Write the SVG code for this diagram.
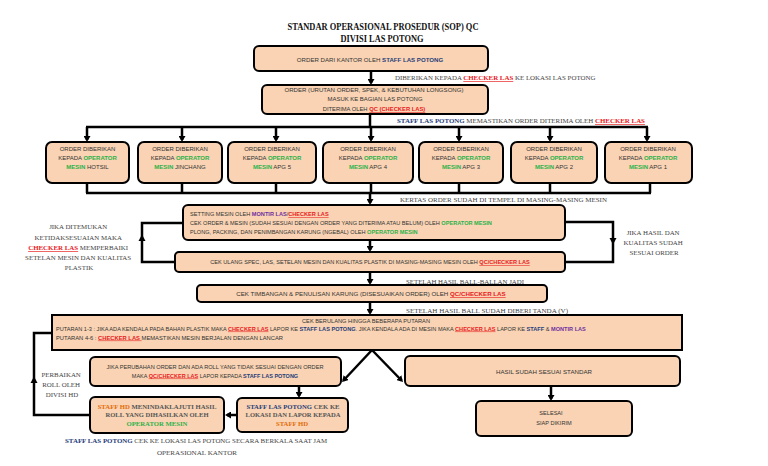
<svg xmlns="http://www.w3.org/2000/svg" width="768" height="466" viewBox="0 0 768 466">
<defs>
<style>
.box{fill:#F9D3B3;stroke:#000;stroke-width:2}
.t{font-family:"Liberation Sans",Arial,sans-serif;fill:#333}
.s{font-family:"Liberation Serif","Times New Roman",serif;fill:#444;font-size:6.9px}
.sb{font-family:"Liberation Serif","Times New Roman",serif;fill:#555;font-size:6.7px;font-weight:bold}
.ttl{font-family:"Liberation Serif","Times New Roman",serif;fill:#111;font-size:10.5px;font-weight:bold}
.red{fill:#E8201E;text-decoration:underline;font-weight:bold}
.grn{fill:#2DB24A;font-weight:bold}
.blu{fill:#1F3D7A;font-weight:bold}
.pur{fill:#7030A0;font-weight:bold}
.org{fill:#E46C0A;font-weight:bold}
.ln{stroke:#000;stroke-width:2.5;fill:none}
.ar{marker-end:url(#ah)}
</style>
<marker id="ah" markerUnits="userSpaceOnUse" markerWidth="6" markerHeight="7" viewBox="0 0 6 7" refX="4" refY="3.5" orient="auto">
<path d="M0,0 L6,3.5 L0,7 z" fill="#000"/>
</marker>
</defs>
<rect width="768" height="466" fill="#fff"/>

<g id="title">
<text class="ttl" x="383" y="30" text-anchor="middle" textLength="191" lengthAdjust="spacingAndGlyphs">STANDAR OPERASIONAL PROSEDUR (SOP) QC</text>
<text class="ttl" x="382" y="42" text-anchor="middle" textLength="83" lengthAdjust="spacingAndGlyphs">DIVISI LAS POTONG</text>
</g>

<g id="connectors">
<path class="ln ar" d="M371,71 V83"/>
<path class="ln" d="M370,114 V127"/>
<path class="ln" d="M86,127 H648"/>
<path class="ln ar" d="M87,127 V140"/>
<path class="ln ar" d="M182,127 V140"/>
<path class="ln ar" d="M276,127 V140"/>
<path class="ln ar" d="M371,127 V140"/>
<path class="ln ar" d="M459,127 V140"/>
<path class="ln ar" d="M550,127 V140"/>
<path class="ln ar" d="M647,127 V140"/>
<path class="ln" d="M87,183 V193 M182,183 V193 M276,183 V193 M371,183 V193 M459,183 V193 M550,183 V193 M650,183 V193"/>
<path class="ln" d="M86,193 H651"/>
<path class="ln ar" d="M370,193 V203"/>
<path class="ln ar" d="M370,240 V250"/>
<path class="ln" d="M175,262 H142 V223 H183"/>
<polygon points="138.5,241 145.5,241 142,234.5" fill="#000"/>
<path class="ln" d="M565,222 H613 V262 H565"/>
<polygon points="609.5,238 616.5,238 613,244.5" fill="#000"/>
<path class="ln ar" d="M370,272 V283"/>
<path class="ln ar" d="M370,302 V313"/>
<path class="ln ar" d="M372,350 L343.4,380.5"/>
<path class="ln ar" d="M372,350 L401.6,380.5"/>
<path class="ln ar" d="M299,386 V396"/>
<path class="ln ar" d="M551,386 V399"/>
<path class="ln ar" d="M237,415 H227"/>
<path class="ln" d="M90,415 H34 V333 H52"/>
<polygon points="30.5,383 37.5,383 34,376.5" fill="#000"/>
</g>

<g id="labels">
<text class="s" x="395" y="80">DIBERIKAN KEPADA <tspan class="red">CHECKER LAS</tspan> KE LOKASI LAS POTONG</text>
<text class="s" x="397" y="123"><tspan class="blu">STAFF LAS POTONG</tspan> MEMASTIKAN ORDER DITERIMA OLEH <tspan class="red">CHECKER LAS</tspan></text>
<text class="s" x="400" y="202" textLength="207" lengthAdjust="spacingAndGlyphs">KERTAS ORDER SUDAH DI TEMPEL DI MASING-MASING MESIN</text>
<text class="s" text-anchor="middle" x="79">
<tspan x="79" y="229">JIKA DITEMUKAN</tspan>
<tspan x="79" y="240">KETIDAKSESUAIAN MAKA</tspan>
<tspan x="79" y="250"><tspan class="red">CHECKER LAS</tspan> MEMPERBAIKI</tspan>
<tspan x="79" y="260">SETELAN MESIN DAN KUALITAS</tspan>
<tspan x="79" y="270">PLASTIK</tspan>
</text>
<text class="s" text-anchor="middle" x="654">
<tspan x="654" y="235">JIKA HASIL DAN</tspan>
<tspan x="654" y="245">KUALITAS SUDAH</tspan>
<tspan x="654" y="255">SESUAI ORDER</tspan>
</text>
<text class="s" x="406" y="283.5" textLength="118" lengthAdjust="spacingAndGlyphs">SETELAH HASIL BALL-BALLAN JADI</text>
<text class="s" x="406" y="313" textLength="162" lengthAdjust="spacingAndGlyphs">SETELAH HASIL BALL SUDAH DIBERI TANDA (V)</text>
<text class="s" text-anchor="middle" x="62">
<tspan x="62" y="377">PERBAIKAN</tspan>
<tspan x="62" y="387">ROLL OLEH</tspan>
<tspan x="62" y="397">DIVISI HD</tspan>
</text>
<text class="s" x="65" y="443"><tspan class="blu">STAFF LAS POTONG</tspan> CEK KE LOKASI LAS POTONG SECARA BERKALA SAAT JAM</text>
<text class="s" x="197" y="455" text-anchor="middle" textLength="80" lengthAdjust="spacingAndGlyphs">OPERASIONAL KANTOR</text>
</g>

<g id="n-order-kantor">
<rect class="box" x="254" y="46" width="234" height="25" rx="5"/>
<text class="t" x="370" y="62" text-anchor="middle" font-size="6.1">ORDER DARI KANTOR OLEH <tspan class="blu">STAFF LAS POTONG</tspan></text>
</g>

<g id="n-order-masuk">
<rect class="box" x="262" y="85" width="226" height="29" rx="5"/>
<text class="t" x="374" y="92" text-anchor="middle" font-size="5.6" textLength="179" lengthAdjust="spacingAndGlyphs">ORDER (URUTAN ORDER, SPEK, &amp; KEBUTUHAN LONGSONG)</text>
<text class="t" x="375" y="101" text-anchor="middle" font-size="5.6" textLength="95" lengthAdjust="spacingAndGlyphs">MASUK KE BAGIAN LAS POTONG</text>
<text class="t" x="374" y="111" text-anchor="middle" font-size="5.8">DITERIMA OLEH <tspan class="red">QC (CHECKER LAS)</tspan></text>
</g>

<g id="n-hotsil">
<rect class="box" x="46" y="142" width="83" height="41" rx="6"/>
<text class="t" font-size="6" text-anchor="middle"><tspan x="87.5" y="151">ORDER DIBERIKAN</tspan><tspan x="87.5" y="160">KEPADA <tspan class="grn">OPERATOR</tspan></tspan><tspan x="87.5" y="169"><tspan class="grn">MESIN</tspan> HOTSIL</tspan></text>
</g>
<g id="n-jinchang">
<rect class="box" x="138" y="142" width="84" height="41" rx="6"/>
<text class="t" font-size="6" text-anchor="middle"><tspan x="180" y="151">ORDER DIBERIKAN</tspan><tspan x="180" y="160">KEPADA <tspan class="grn">OPERATOR</tspan></tspan><tspan x="180" y="169"><tspan class="grn">MESIN</tspan> JINCHANG</tspan></text>
</g>
<g id="n-apg5">
<rect class="box" x="228" y="142" width="88" height="41" rx="6"/>
<text class="t" font-size="6" text-anchor="middle"><tspan x="272" y="151">ORDER DIBERIKAN</tspan><tspan x="272" y="160">KEPADA <tspan class="grn">OPERATOR</tspan></tspan><tspan x="272" y="169"><tspan class="grn">MESIN</tspan> APG 5</tspan></text>
</g>
<g id="n-apg4">
<rect class="box" x="323" y="142" width="90" height="41" rx="6"/>
<text class="t" font-size="6" text-anchor="middle"><tspan x="368" y="151">ORDER DIBERIKAN</tspan><tspan x="368" y="160">KEPADA <tspan class="grn">OPERATOR</tspan></tspan><tspan x="368" y="169"><tspan class="grn">MESIN</tspan> APG 4</tspan></text>
</g>
<g id="n-apg3">
<rect class="box" x="419" y="142" width="84" height="41" rx="6"/>
<text class="t" font-size="6" text-anchor="middle"><tspan x="461" y="151">ORDER DIBERIKAN</tspan><tspan x="461" y="160">KEPADA <tspan class="grn">OPERATOR</tspan></tspan><tspan x="461" y="169"><tspan class="grn">MESIN</tspan> APG 3</tspan></text>
</g>
<g id="n-apg2">
<rect class="box" x="511" y="142" width="86" height="41" rx="6"/>
<text class="t" font-size="6" text-anchor="middle"><tspan x="554" y="151">ORDER DIBERIKAN</tspan><tspan x="554" y="160">KEPADA <tspan class="grn">OPERATOR</tspan></tspan><tspan x="554" y="169"><tspan class="grn">MESIN</tspan> APG 2</tspan></text>
</g>
<g id="n-apg1">
<rect class="box" x="605" y="142" width="87" height="41" rx="6"/>
<text class="t" font-size="6" text-anchor="middle"><tspan x="648" y="151">ORDER DIBERIKAN</tspan><tspan x="648" y="160">KEPADA <tspan class="grn">OPERATOR</tspan></tspan><tspan x="648" y="169"><tspan class="grn">MESIN</tspan> APG 1</tspan></text>
</g>

<g id="n-setting">
<rect class="box" x="183" y="205" width="382" height="35" rx="5"/>
<text class="t" x="190" y="216" font-size="5.6">SETTING MESIN OLEH <tspan class="pur">MONTIR LAS</tspan>/<tspan class="red">CHECKER LAS</tspan></text>
<text class="t" x="190" y="224.5" font-size="5.6">CEK ORDER &amp; MESIN (SUDAH SESUAI DENGAN ORDER YANG DITERIMA ATAU BELUM) OLEH <tspan class="grn">OPERATOR MESIN</tspan></text>
<text class="t" x="190" y="234" font-size="5.6">PLONG, PACKING, DAN PENIMBANGAN KARUNG (NGEBAL) OLEH <tspan class="grn">OPERATOR MESIN</tspan></text>
</g>

<g id="n-cek-ulang">
<rect class="box" x="175" y="252" width="390" height="20" rx="4"/>
<text class="t" x="370" y="264" font-size="5.6" text-anchor="middle">CEK ULANG SPEC, LAS, SETELAN MESIN DAN KUALITAS PLASTIK DI MASING-MASING MESIN OLEH <tspan class="red">QC/CHECKER LAS</tspan></text>
</g>

<g id="n-timbangan">
<rect class="box" x="197" y="285" width="350" height="17" rx="4"/>
<text class="t" x="371" y="296" text-anchor="middle" font-size="6.2">CEK TIMBANGAN &amp; PENULISAN KARUNG (DISESUAIKAN ORDER) OLEH  <tspan class="red">QC/CHECKER LAS</tspan></text>
</g>

<g id="n-berulang">
<rect class="box" x="52" y="315" width="630" height="35" fill="#FBD7BA"/>
<text class="t" x="366" y="323" font-size="5.4" text-anchor="middle" textLength="128" lengthAdjust="spacingAndGlyphs">CEK BERULANG HINGGA BEBERAPA PUTARAN</text>
<text class="t" x="56" y="330.5" font-size="5.6">PUTARAN 1-3 : JIKA ADA KENDALA PADA BAHAN PLASTIK MAKA <tspan class="red">CHECKER LAS</tspan> LAPOR KE <tspan class="blu">STAFF LAS POTONG</tspan>. JIKA KENDALA ADA DI MESIN MAKA <tspan class="red">CHECKER LAS</tspan> LAPOR KE <tspan class="blu">STAFF</tspan> &amp; <tspan class="pur">MONTIR LAS</tspan></text>
<text class="t" x="56" y="339.5" font-size="5.8">PUTARAN 4-6 : <tspan class="red">CHECKER LAS </tspan> MEMASTIKAN MESIN BERJALAN DENGAN LANCAR</text>
</g>

<g id="n-perubahan">
<rect class="box" x="90" y="357" width="251" height="29" rx="5"/>
<text class="t" x="215" y="369" font-size="5.4" text-anchor="middle" textLength="217" lengthAdjust="spacingAndGlyphs">JIKA PERUBAHAN ORDER DAN ADA ROLL YANG TIDAK SESUAI DENGAN ORDER</text>
<text class="t" x="215" y="377.5" font-size="5.5" text-anchor="middle">MAKA <tspan class="red">QC/CHECKER LAS</tspan> LAPOR KEPADA <tspan class="blu">STAFF LAS POTONG</tspan></text>
</g>

<g id="n-hasil">
<rect class="box" x="405" y="356" width="275" height="30" rx="5"/>
<text class="t" x="544" y="374" font-size="5.6" text-anchor="middle" textLength="96" lengthAdjust="spacingAndGlyphs">HASIL SUDAH SESUAI STANDAR</text>
</g>

<g id="n-selesai">
<rect class="box" x="476" y="401" width="156" height="35" rx="5"/>
<text class="t" x="551" y="415" font-size="5.6" text-anchor="middle">SELESAI</text>
<text class="t" x="554" y="425" font-size="5.6" text-anchor="middle">SIAP DIKIRIM</text>
</g>

<g id="n-staff-cek">
<rect class="box" x="237" y="398" width="111" height="34" rx="5"/>
<text class="sb" x="293" y="409" text-anchor="middle"><tspan class="blu">STAFF LAS POTONG</tspan>  CEK KE</text>
<text class="sb" x="293" y="417" text-anchor="middle" textLength="95" lengthAdjust="spacingAndGlyphs">LOKASI DAN LAPOR KEPADA</text>
<text class="sb" x="292" y="426" text-anchor="middle"><tspan class="org">STAFF HD</tspan></text>
</g>

<g id="n-staff-hd">
<rect class="box" x="90" y="397" width="134" height="36" rx="5"/>
<text class="sb" x="157" y="409" text-anchor="middle"><tspan class="org">STAFF HD</tspan> MENINDAKLAJUTI HASIL</text>
<text class="sb" x="157" y="417" text-anchor="middle" textLength="103" lengthAdjust="spacingAndGlyphs">ROLL YANG DIHASILKAN OLEH</text>
<text class="sb" x="157" y="426" text-anchor="middle"><tspan class="grn">OPERATOR MESIN</tspan></text>
</g>
</svg>
